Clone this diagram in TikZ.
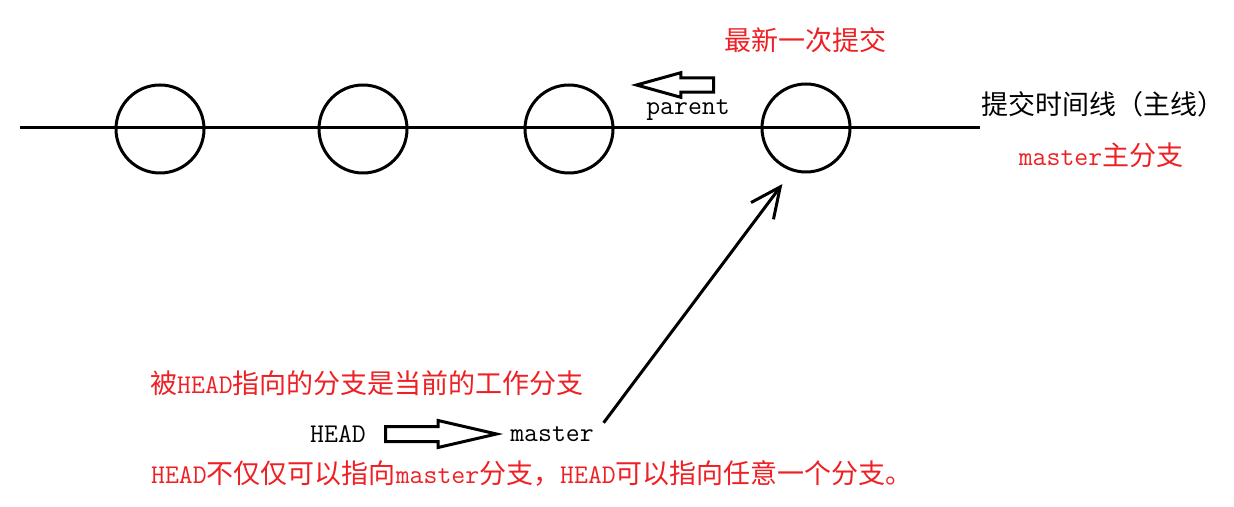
\documentclass[tikz,border=0pt]{standalone}
\usepackage{fontspec}
\setmainfont{Noto Sans CJK SC}
\usetikzlibrary{shapes.arrows,arrows.meta}
\definecolor{notered}{RGB}{238,32,36}
\newcommand{\lat}[1]{{\ttfamily #1}}
\begin{document}
\begin{tikzpicture}[x=0.5pt,y=-0.5pt,line width=1.5pt,
  every node/.style={inner sep=0pt,font=\fontsize{13.5}{16}\selectfont},
  commit/.style={circle,draw,minimum size=44pt},
  note/.style={text=notered},
  hollow/.style={single arrow,draw,inner xsep=0pt,single arrow head indent=0pt}]
\useasboundingbox (0,0) rectangle (1234,507);
\coordinate (t0) at (20,128);
\coordinate (t1) at (980,128);
\draw (t0) -- (t1);
\node[commit] (c1) at (160,129) {};
\node[commit] (c2) at (363,129) {};
\node[commit] (c3) at (569,129) {};
\node[commit] (c4) at (806,128) {};
\node[note] (latest) at (805,40) {最新一次提交};
\node[hollow,shape border rotate=180,inner ysep=2.8pt,minimum height=38.5pt,single arrow head extend=2.6pt,single arrow tip angle=31,anchor=tail] (back) at (715,85) {};
\node (parent) at (688,110) {\lat{parent}};
\node (timeline) at (1103,104) {提交时间线（主线）};
\node[note] (mainbr) at (1101,155) {\lat{master}主分支};
\node[note] (tip1) at (367,383) {被\lat{HEAD}指向的分支是当前的工作分支};
\node (head) at (338,434) {\lat{HEAD}};
\node[hollow,inner ysep=3pt,minimum height=55.5pt,single arrow head extend=3pt,single arrow tip angle=26,anchor=tail] (ptr) at (384,434) {};
\node (master) at (552,434) {\lat{master}};
\node[note] (tip2) at (532,473) {\lat{HEAD}不仅仅可以指向\lat{master}分支，\lat{HEAD}可以指向任意一个分支。};
\draw[-{Straight Barb[length=15pt,width=14pt]},shorten <=7pt,shorten >=8pt] (master.east) -- (c4.252);
\end{tikzpicture}
\end{document}
